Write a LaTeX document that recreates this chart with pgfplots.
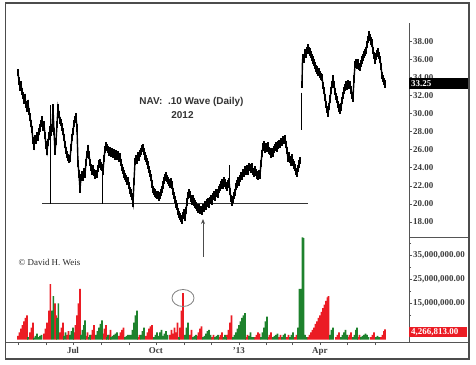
\documentclass[border=0pt]{standalone}
\usepackage{pgfplots}
\pgfplotsset{compat=1.18}
\usepackage{fontspec}
\setmainfont{Liberation Serif}
\newfontfamily\arial{Liberation Sans}
\usetikzlibrary{arrows.meta}
\definecolor{vred}{RGB}{235,28,36}
\definecolor{vgreen}{RGB}{30,130,45}
\definecolor{axgray}{RGB}{85,85,85}
\definecolor{lblgray}{RGB}{60,60,60}
\pgfplotsset{hlbars/.style={black, line width=1.4bp,
  error bars/.cd, y dir=both, y fixed=0.4, error mark=none,
  error bar style={line width=1.1bp, black}}}
\begin{document}
\begin{tikzpicture}
\path[use as bounding box] (0,0) rectangle (476bp,365bp);
% ---------------- price panel ----------------
\begin{axis}[
  anchor=south west, at={(6bp,128bp)},
  scale only axis, width=403bp, height=214bp,
  xmin=6, xmax=409, ymin=16.34, ymax=40,
  hide x axis,
  axis y line*=right,
  axis line style={-, axgray, line width=0.8bp},
  tick style={axgray, line width=0.6bp},
  tick align=outside, major tick length=3bp,
  ytick={18,20,22,24,26,28,30,32,34,36,38},
  yticklabels={18.00,20.00,22.00,24.00,26.00,28.00,30.00,32.00,34.00,36.00,38.00},
  yticklabel style={font=\bfseries\fontsize{9}{10}\selectfont, text=lblgray, inner xsep=1bp},
]
\addplot[black!80, line width=0.8bp] coordinates {(42,20)(308,20)};
\addplot[hlbars] coordinates {
(18,34.5)(19,33.6)(20,32.9)(21,33.2)(22,32.4)(23,32.0)(24,31.4)(25,31.8)(26,31.0)(27,30.6)
(28,31.1)(29,30.2)(30,29.6)(31,28.9)(32,28.2)(33,27.0)(34,26.4)(35,27.2)(36,27.0)(37,27.6)
(38,27.3)(39,28.0)(40,28.4)(41,28.9)(42,29.3)(43,28.5)(44,28.8)(45,27.6)(46,26.5)(47,25.8)
(48,26.8)(49,27.5)(50,28.2)(51,27.9)(52,28.4)(53,30.6)(54,28.0)(55,25.8)(56,26.9)(57,28.8)
(58,30.6)(59,29.9)(60,29.2)(61,29.0)(62,28.5)(63,28.0)(64,27.3)(65,26.6)(66,25.9)(67,25.5)
(68,25.1)(69,24.9)(70,25.0)(71,26.2)(72,27.3)(73,28.0)(74,28.9)(75,29.3)(76,29.6)(77,28.4)
(78,24.5)(79,23.3)(80,21.6)(81,22.9)(82,23.2)(83,22.9)(84,23.6)(85,23.3)(86,24.6)(87,25.5)
(88,26.1)(89,25.4)(90,24.6)(91,24.0)(92,23.6)(93,23.9)(94,23.5)(95,23.2)(96,23.4)(97,23.3)
(98,23.9)(99,24.4)(100,24.6)(101,24.2)(102,24.0)(103,23.6)(104,25.0)(105,26.0)(106,26.4)(107,26.2)
(108,26.0)(109,25.7)(110,25.9)(111,25.6)(112,25.8)(113,25.5)(114,25.7)(115,25.3)(116,25.6)(117,25.2)
(118,25.4)(119,25.0)(120,25.2)(121,24.6)(122,24.0)(123,23.7)(124,23.3)(125,23.0)(126,22.8)(127,22.5)
(128,22.6)(129,22.0)(130,21.5)(131,21.2)(132,20.8)(133,20.1)(134,22.5)(135,24.7)(136,25.0)(137,24.8)
(138,25.3)(139,25.1)(140,25.6)(141,25.8)(142,26.1)(143,26.2)(144,25.8)(145,25.3)(146,25.0)(147,24.7)
(148,24.3)(149,23.8)(150,23.4)(151,22.9)(152,22.2)(153,21.6)(154,21.4)(155,21.2)(156,21.0)(157,20.9)
(158,21.0)(159,20.7)(160,20.9)(161,21.3)(162,21.6)(163,22.1)(164,22.6)(165,22.9)(166,23.1)(167,22.8)
(168,22.6)(169,22.4)(170,22.2)(171,22.5)(172,22.1)(173,21.4)(174,20.9)(175,20.5)(176,20.0)(177,19.7)
(178,19.2)(179,18.8)(180,18.6)(181,18.4)(182,18.2)(183,18.7)(184,19.0)(185,18.5)(186,19.3)(187,20.2)
(188,20.9)(189,21.3)(190,21.0)(191,20.6)(192,20.3)(193,20.6)(194,20.2)(195,20.0)(196,19.8)(197,19.6)
(198,19.4)(199,19.6)(200,19.3)(201,19.4)(202,19.2)(203,19.6)(204,19.5)(205,19.9)(206,19.7)(207,20.1)
(208,20.3)(209,20.0)(210,20.4)(211,20.6)(212,20.3)(213,20.8)(214,21.0)(215,20.7)(216,21.2)(217,21.3)
(218,21.1)(219,21.6)(220,21.8)(221,22.1)(222,22.3)(223,22.0)(224,22.6)(225,22.3)(226,22.0)(227,21.8)
(228,22.2)(229,22.5)(230,21.4)(231,20.6)(232,20.2)(233,20.5)(234,20.9)(235,21.3)(236,21.9)(237,22.2)
(238,22.6)(239,22.4)(240,22.8)(241,23.1)(242,23.0)(243,23.5)(244,23.4)(245,23.8)(246,23.6)(247,23.9)
(248,23.6)(249,24.1)(250,24.0)(251,23.8)(252,24.1)(253,23.6)(254,23.4)(255,23.8)(256,23.5)(257,23.2)
(258,23.0)(259,23.4)(260,23.2)(261,24.5)(262,25.6)(263,26.3)(264,26.5)(265,26.0)(266,26.3)(267,26.1)
(268,26.4)(269,25.9)(270,25.8)(271,25.5)(272,25.8)(273,25.6)(274,26.0)(275,26.2)(276,26.4)(277,26.1)
(278,26.5)(279,26.7)(280,26.6)(281,26.9)(282,26.8)(283,27.1)(284,27.0)(285,27.2)(286,26.6)(287,25.9)
(288,25.0)(289,25.3)(290,24.9)(291,24.6)(292,25.1)(293,24.6)(294,24.3)(295,24.0)(296,23.6)(297,23.4)
(298,23.9)(299,24.4)(300,24.8)
};
\addplot[hlbars] coordinates {
(302,33.2)(302.5,35.9)(303,36.2)(304,36.0)(305,36.7)(306,36.5)(307,37.0)(308,37.3)(309,37.0)(310,36.8)
(311,36.5)(312,36.2)(313,35.9)(314,35.6)(315,35.3)(316,35.0)(317,34.8)(318,34.5)(319,34.6)(320,34.3)
(321,34.1)(322,34.0)(323,33.1)(324,32.5)(325,31.8)(326,31.0)(327,30.4)(328,30.0)(329,30.8)(330,31.6)
(331,32.5)(332,33.2)(333,33.8)(334,33.2)(335,32.4)(336,31.9)(337,31.5)(338,31.0)(339,30.6)(340,30.3)
(341,30.7)(342,31.4)(343,32.0)(344,32.5)(345,32.9)(346,33.2)(347,33.0)(348,33.3)(349,33.1)(350,33.2)
(351,32.6)(352,32.0)(353,31.7)(354,33.8)(355,35.4)(356,35.6)(357,35.3)(358,35.6)(359,35.2)(360,35.1)
(361,35.5)(362,35.9)(363,36.2)(364,36.5)(365,36.7)(366,37.0)(367,37.6)(368,38.2)(369,38.7)(370,38.4)
(371,38.0)(372,37.8)(373,37.0)(374,36.4)(375,35.9)(376,36.3)(377,36.6)(378,36.8)(379,36.4)(380,36.0)
(381,35.2)(382,34.2)(383,33.9)(384,33.5)(385,33.25)
};
\addplot[black, line width=1bp] coordinates {(50,30.9)(50,20.0)};
\addplot[black, line width=1bp] coordinates {(102,24.0)(102,20.0)};
\addplot[black, line width=1bp] coordinates {(229,24.3)(229,22.0)};
\addplot[black, line width=1bp] coordinates {(301,32.3)(301,28.2)};
\end{axis}
% ---------------- volume panel ----------------
\begin{axis}[
  anchor=south west, at={(6bp,23bp)},
  scale only axis, width=403bp, height=105bp,
  xmin=6, xmax=409, ymin=-1, ymax=42.45,
  axis x line*=bottom, axis y line*=right,
  axis line style={-, axgray, line width=0.8bp},
  tick style={axgray, line width=0.6bp},
  tick align=outside, major tick length=3bp, minor tick length=2bp,
  xtick={18,46,73,100.9,128.9,155.9,183.8,210.9,238.8,266.7,291.9,319.9,346.9,374.8},
  xticklabels={,,Jul,,,Oct,,,'13,,,Apr,,},
  xticklabel style={font=\bfseries\fontsize{9}{10}\selectfont, text=lblgray, inner ysep=2bp},
  ytick={15,25,35},
  yticklabels={{15,000,000.00},{25,000,000.00},{35,000,000.00}},
  minor ytick={10,20,30,40},
  yticklabel style={font=\bfseries\fontsize{9}{10}\selectfont, text=lblgray, inner xsep=1bp},
  ybar, bar width=1.6bp, bar shift=0pt,
]
\addplot[fill=vred, draw=none] coordinates {
(18,1.5)(19.5,3)(21,4.5)(22.5,6)(24,7.5)(25.5,9)(27,10)
(30,3)(31.5,5)(33,7)
(44,2.5)(45.5,4.5)(47,7)
(49,12)(50.3,23)
(55,15)(56,10)
(60,3)(61.5,5)(63,7)
(67,2)(68.5,3.5)
(74,3)(75.5,6)(77,10)(78.5,15)(80,21)
(86,1.5)(87.5,3)
(91,2)(92.5,4)(94,6)
(103,2.5)(104.5,4.5)(106,6)
(109,2)(110.5,4)
(119,1.5)(120.5,3)(122,4)(123.5,5)
(138,1)(139.5,2)
(146,1.5)(147.5,3)(149,4.5)(150.5,5.5)(152,6)
(170,2)(171.5,4)(173,2.5)(174.5,5)(176,3)(177.5,7)
(180,5)(181.5,12)(183,19.2)
(190,2)(191.5,4)
(197,1.5)(198.5,3)(200,4.5)(201.5,5.5)
(212,1)(213.5,2)
(219,1)(220.5,2)(222,3)
(227,2)(228.5,4)(230,7)(231.5,10)
(246,1)(247.5,2)
(255,1)(256.5,2)(258,3)(259.5,2.5)
(268,1)(269.5,2)(271,3)
(279,1)(280.5,2)
(287,1)(288.5,2)
(295,1)(296.5,2)
(308,1)(309.5,2)(311,3)(312.5,4)(314,5)(315.5,6.5)(317,7.5)(318.5,9)(320,10)(321.5,11.5)
(323,13)(324.5,14.5)(326,16)(327.5,17.5)(328.5,18)
(336,1)(337.5,2)(339,3)
(348,1)(349.5,2)(351,3)
(358,1)(359.5,2)
(371,1)(372.5,2)(374,3)
(381,1)(382.5,2)(384,3.5)(385,4.27)
};
\addplot[fill=vgreen, draw=none] coordinates {
(28,1)
(34,0.8)(35.5,1.5)(37,2.5)(38.5,1)(40,1.5)(41.5,2)
(52,12)(53.3,18)
(57,9)(58.3,15)
(64,1.5)(65.5,3)
(70,2)(71.5,3.5)(73,5)
(81,2)(82.5,4)(84,6)(85,8)
(89,1)(90,2)
(96,2)(97.5,3.5)(99,5)(100.5,6.5)(102,8)
(107,1)(108,2)
(111,1)(112.5,1.5)(114,2)(115.5,2.5)(117,3)
(125,1)(126.5,1.5)(128,2)(129.5,2)
(131,2)(132.5,4)(134,7)(135.5,10)(137,12)
(141,2)(142.5,3.5)(144,5)
(154,1)(155.5,2)(157,3)(158.5,1.5)(160,3)(161.5,4)(163,1.5)(164.5,2.5)(166,3.5)(167.5,2)
(179,1)
(185,2)(186.5,5)(188,7)
(193,1)(194.5,1.5)(196,2)
(203,1)(204.5,1.5)(206,2.5)(207.5,3.5)(209,4)(210.5,2)
(215,1)(216.5,1.5)(218,2)
(223.5,1)(225,2)(226,1)
(233,1)(234.5,2)(236,3)(237.5,4.5)(239,6)(240.5,7.5)(242,9)(243.5,10)(245,11)
(249,1.5)(250.5,3)(252,1)(253.5,1)
(261,1)(262.5,3)(264,5)(265.5,7.5)(267,9.5)
(273,1)(274.5,1.5)(276,2)(277.5,2.5)
(282,1)(283.5,2)(285,2.5)
(290,1)(291.5,2)(293,3)
(298,5)(299.5,21)(301,21)(302.5,42.3)(303.5,42)
(305,2)(306.5,1)
(330,2)(331.5,4)(333,5)
(341,1)(342.5,2)(344,3)(345.5,4)(347,2)
(353,1)(354.5,2)(356,4)(357,5)
(361,1)(362.5,1.5)(364,2)(365.5,2.5)(367,2)(368.5,1)
(376,1)(377.5,1.5)(379,1)
};
\end{axis}
% ---------------- decorations ----------------
\draw[axgray, line width=0.8bp] (409bp,23bp) -- (468bp,23bp);
\draw[axgray, line width=0.8bp] (409bp,128bp) -- (469bp,128bp);
\node[fill=black, text=white, anchor=west, minimum height=11bp, text width=56bp, inner xsep=2bp, inner ysep=0pt, align=left, font=\bfseries\fontsize{9}{10}\selectfont] at (409bp,281bp) {33.25};
\node[fill=vred, text=white, anchor=west, minimum height=10bp, text width=54bp, inner xsep=2bp, inner ysep=0pt, align=left, font=\bfseries\fontsize{9}{10}\selectfont] at (409bp,33bp) {4,266,813.00};
\node[font=\arial\bfseries\fontsize{10}{12}\selectfont, text=black!80] at (191.5bp,263bp) {NAV:\ \ .10 Wave (Daily)};
\node[font=\arial\bfseries\fontsize{10}{12}\selectfont, text=black!80] at (182.5bp,250bp) {2012};
\node[anchor=west, font=\fontsize{9}{10}\selectfont, text=black!85] at (15bp,103bp) {© David H. Weis};
\draw[gray!60!black, line width=0.8bp, -{Stealth[length=5bp,width=4bp]}] (203bp,108bp) -- (203bp,146bp);
\draw[gray, line width=0.8bp] (183bp,67bp) ellipse [x radius=11bp, y radius=8.5bp];
\draw[black!70, line width=1.5bp] (5.5bp,6bp) rectangle (469bp,362bp);
\end{tikzpicture}
\end{document}
